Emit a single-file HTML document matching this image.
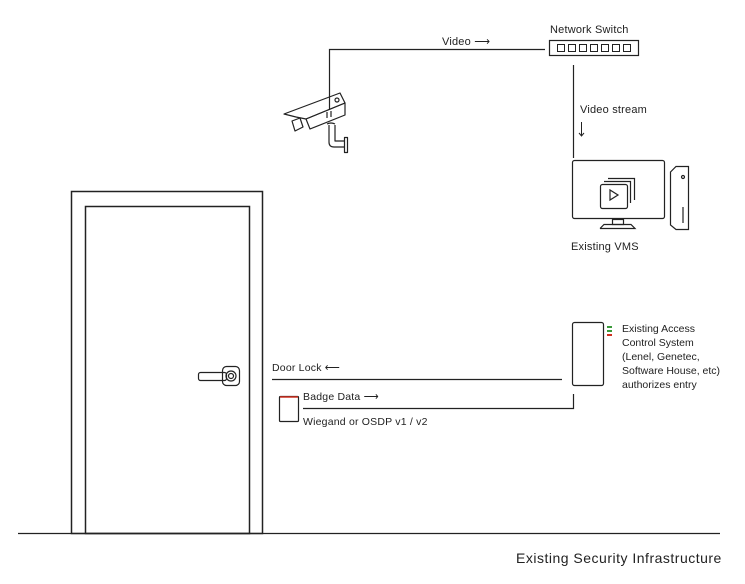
<!DOCTYPE html>
<html><head><style>
body{margin:0;background:#fff;}
svg text{font-family:"Liberation Sans",sans-serif;fill:#222;}
</style></head><body>
<svg width="745" height="579" viewBox="0 0 745 579" xmlns="http://www.w3.org/2000/svg" fill="none" stroke="#222" stroke-width="1.2">
<rect x="71.5" y="191.5" width="191" height="342" stroke-width="1.5"/>
<rect x="85.5" y="206.5" width="164" height="327" stroke-width="1.5"/>
<line x1="18" y1="533.5" x2="720" y2="533.5" stroke-width="1.3"/>
<rect x="198.5" y="372.5" width="28" height="8" rx="2"/>
<rect x="222.5" y="366.5" width="17" height="19" rx="4"/>
<circle cx="231" cy="376" r="5"/>
<circle cx="231" cy="376" r="2.5"/>
<polyline points="329.5,110 329.5,49.5 545,49.5"/>
<text x="442" y="45" font-size="11" stroke="none" letter-spacing="0.2">Video ⟶</text>
<text x="550" y="33" font-size="11" stroke="none" letter-spacing="0.2">Network Switch</text>
<rect x="549.5" y="40.5" width="89" height="15"/>
<g stroke-width="1">
<rect x="557.5" y="44.5" width="7" height="7"/><rect x="568.5" y="44.5" width="7" height="7"/><rect x="579.5" y="44.5" width="7" height="7"/><rect x="590.5" y="44.5" width="7" height="7"/><rect x="601.5" y="44.5" width="7" height="7"/><rect x="612.5" y="44.5" width="7" height="7"/><rect x="623.5" y="44.5" width="7" height="7"/>
</g>
<line x1="573.5" y1="65" x2="573.5" y2="158"/>
<text x="580" y="113" font-size="11" stroke="none" letter-spacing="0.2">Video stream</text>
<line x1="581.5" y1="122" x2="581.5" y2="136" stroke-width="1"/>
<polyline points="579,133 581.5,136 584,133" stroke-width="1"/>
<rect x="572.5" y="160.5" width="92" height="58" rx="2"/>
<rect x="612.5" y="219.5" width="11" height="5"/>
<polyline points="600,228.5 604,224.5 631,224.5 635,228.5 600,228.5"/>
<rect x="600.5" y="184.5" width="27" height="24" rx="2"/>
<polyline points="604,181.5 630.5,181.5 630.5,203"/>
<polyline points="608,178.5 634.5,178.5 634.5,200"/>
<polygon points="610,190 610,200 618,195"/>
<polygon points="670.5,172 676,166.5 688.5,166.5 688.5,229.5 676,229.5 670.5,225"/>
<circle cx="683" cy="177" r="1.5"/>
<line x1="683" y1="207" x2="683" y2="223"/>
<text x="571" y="250" font-size="11" stroke="none" letter-spacing="0.2">Existing VMS</text>
<g stroke-width="1.2" stroke-linejoin="round">
<polygon points="284,114 340,93 345,103 306,119 296,117"/>
<polygon points="306,119 345,103 345,115 310,129"/>
<polygon points="292,121 300,118 303,127 295,131"/>
<circle cx="337" cy="100" r="2"/>
<line x1="327" y1="112" x2="327" y2="118"/><line x1="331" y1="111" x2="331" y2="117"/>
<path d="M327,124 q4,-2 8,0 M329,125 v17 q0,5 5,5 h10"/><path d="M335,125 v16 h9"/>
<rect x="344.5" y="137.5" width="3" height="15"/>
</g>
<rect x="572.5" y="322.5" width="31" height="63" rx="2"/>
<g stroke="none"><rect x="607" y="326" width="5" height="2" fill="#3a9a3a"/><rect x="607" y="330" width="5" height="2" fill="#3a9a3a"/><rect x="607" y="334" width="5" height="2" fill="#d03020"/></g>
<g font-size="10.5" stroke="none">
<text x="622" y="332">Existing Access</text>
<text x="622" y="346">Control System</text>
<text x="622" y="360">(Lenel, Genetec,</text>
<text x="622" y="374">Software House, etc)</text>
<text x="622" y="388">authorizes entry</text>
</g>
<text x="272" y="371" font-size="10.5" stroke="none" letter-spacing="0.2">Door Lock ⟵</text>
<line x1="272" y1="379.5" x2="562" y2="379.5"/>
<text x="303" y="400" font-size="10.5" stroke="none" letter-spacing="0.2">Badge Data ⟶</text>
<polyline points="303,408.5 573.5,408.5 573.5,394"/>
<text x="303" y="425" font-size="10.5" stroke="none" letter-spacing="0.2">Wiegand or OSDP v1 / v2</text>
<rect x="279.5" y="396.5" width="19" height="25" rx="1"/>
<line x1="280" y1="397" x2="298" y2="397" stroke="#d03020" stroke-width="1.5"/>
<text x="516" y="563" font-size="14" stroke="none" letter-spacing="0.5">Existing Security Infrastructure</text>
</svg>
</body></html>
